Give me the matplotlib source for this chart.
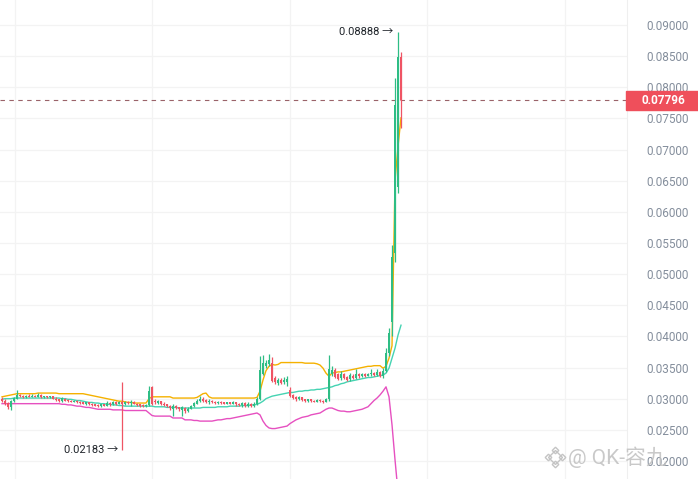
import numpy as np
import matplotlib
matplotlib.use("Agg")
import matplotlib.pyplot as plt
from matplotlib.patches import Rectangle

plt.rcParams['font.family'] = ['Roboto', 'Noto Sans CJK SC', 'DejaVu Sans']

# candle data (one candle per index)
opens = [
    .0300, .0297, .0293, .0287, .0296, .0300, .0306, .0304, .0302, .0305,
    .0303, .0305, .0303, .0306, .0302, .0304, .0302, .0304, .0300, .0299,
    .0297, .0300, .0298, .0297, .0295, .0297, .0295, .0294, .0292, .0294,
    .0292, .0291, .0290, .0289, .0291, .0289, .0293, .0291, .0294, .0292,
    .0295, .0292, .0295, .0293, .0295, .0292, .0291, .0290, .0288, .0290,
    .0318, .0297, .0293, .0296, .0292, .0291, .0289, .0284, .0288, .0286,
    .0282, .0285, .0280, .0284, .0288, .0292, .0296, .0300, .0298, .0294,
    .0297, .0295, .0293, .0295, .0294, .0292, .0294, .0292, .0294, .0292,
    .0290, .0293, .0289, .0292, .0289, .0292, .0300, .0340, .0352, .0355,
    .0357, .0333, .0325, .0330, .0326, .0327, .0314, .0306, .0302, .0299,
    .0302, .0299, .0296, .0299, .0297, .0295, .0298, .0297, .0295, .0299,
    .0340, .0346, .0340, .0333, .0340, .0335, .0331, .0337, .0333, .0339,
    .0336, .0340, .0337, .0339, .0342, .0338, .0343, .0336, .0345, .0373,
    .0423, .0534, .0640, .0849,
]
closes = [
    .0297, .0292, .0287, .0296, .0301, .0306, .0304, .0302, .0305, .0303,
    .0305, .0303, .0306, .0302, .0304, .0302, .0304, .0300, .0298, .0297,
    .0301, .0297, .0296, .0295, .0297, .0294, .0293, .0292, .0294, .0291,
    .0290, .0289, .0289, .0291, .0289, .0293, .0291, .0294, .0292, .0295,
    .0292, .0295, .0293, .0295, .0292, .0290, .0289, .0288, .0290, .0313,
    .0292, .0294, .0296, .0292, .0290, .0288, .0285, .0289, .0285, .0283,
    .0286, .0281, .0284, .0288, .0293, .0297, .0300, .0297, .0294, .0297,
    .0294, .0293, .0295, .0293, .0292, .0294, .0292, .0294, .0291, .0290,
    .0293, .0289, .0292, .0289, .0292, .0300, .0346, .0357, .0357, .0362,
    .0328, .0327, .0330, .0325, .0330, .0331, .0304, .0301, .0299, .0302,
    .0298, .0296, .0299, .0296, .0295, .0298, .0296, .0295, .0299, .0348,
    .0346, .0335, .0332, .0340, .0333, .0330, .0338, .0333, .0340, .0336,
    .0340, .0337, .0340, .0342, .0338, .0343, .0337, .0345, .0373, .0405,
    .0528, .0772, .0849, .07796,
]
highs = [
    .0302, .0299, .0295, .0298, .0303, .0314, .0307, .0306, .0306, .0307,
    .0307, .0306, .0309, .0307, .0305, .0305, .0305, .0305, .0303, .0300,
    .0303, .0301, .0299, .0298, .0298, .0298, .0296, .0295, .0295, .0295,
    .0293, .0292, .0291, .0292, .0292, .0296, .0294, .0296, .0297, .0297,
    .0327, .0297, .0296, .0298, .0296, .0293, .0292, .0291, .0292, .0321,
    .0320, .0300, .0298, .0297, .0294, .0292, .0290, .0292, .0290, .0287,
    .0288, .0286, .0286, .0290, .0295, .0299, .0304, .0303, .0300, .0299,
    .0298, .0296, .0296, .0296, .0295, .0295, .0295, .0296, .0295, .0293,
    .0295, .0294, .0294, .0293, .0294, .0302, .0369, .0370, .0362, .0371,
    .0367, .0336, .0333, .0334, .0335, .0336, .0318, .0307, .0304, .0304,
    .0303, .0300, .0300, .0300, .0298, .0299, .0299, .0298, .0301, .0370,
    .0352, .0350, .0342, .0344, .0342, .0337, .0341, .0339, .0348, .0341,
    .0342, .0342, .0342, .0347, .0343, .0348, .0344, .0350, .0381, .0413,
    .0547, .0815, .08888, .0857,
]
lows = [
    .0295, .0290, .0284, .0282, .0294, .0299, .0302, .0301, .0301, .0302,
    .0302, .0302, .0302, .0301, .0301, .0301, .0301, .0299, .0296, .0295,
    .0294, .0296, .0295, .0294, .0294, .0293, .0292, .0291, .0290, .0290,
    .0289, .0288, .0287, .0287, .0288, .0288, .0289, .0290, .0290, .0291,
    .02183, .0290, .0291, .0289, .0291, .0289, .0287, .0286, .0287, .0289,
    .0290, .0292, .0291, .0290, .0288, .0286, .0282, .0272, .0283, .0280,
    .0272, .0277, .0278, .0283, .0287, .0291, .0295, .0295, .0293, .0292,
    .0293, .0292, .0292, .0292, .0291, .0291, .0291, .0291, .0289, .0288,
    .0287, .0287, .0286, .0287, .0287, .0290, .0298, .0338, .0350, .0352,
    .0326, .0324, .0322, .0323, .0324, .0320, .0302, .0299, .0297, .0298,
    .0296, .0295, .0295, .0294, .0294, .0294, .0294, .0293, .0294, .0297,
    .0336, .0333, .0330, .0330, .0331, .0328, .0329, .0331, .0331, .0334,
    .0335, .0335, .0336, .0337, .0336, .0337, .0335, .0334, .0343, .0368,
    .0400, .0520, .0630, .0735,
]

# bollinger lines
upper = [
    .0303, .0304, .0305, .0306, .0307, .0308, .0308, .0308, .0308, .0308,
    .0308, .0308, .0309, .0309, .0309, .0309, .0309, .0309, .0309, .0308,
    .0308, .0308, .0308, .0308, .0308, .0308, .0308, .0308, .0307, .0306,
    .0305, .0304, .0303, .0302, .0301, .0300, .0299, .0298, .0297, .0296,
    .0296, .0295, .0294, .0294, .0293, .0293, .0293, .0293, .0293, .0300,
    .0303, .0303, .0303, .0303, .0303, .0303, .0303, .0301, .0301, .0301,
    .0301, .0301, .0301, .0301, .0301, .0302, .0305, .0308, .0309, .0303,
    .0301, .0301, .0301, .0301, .0301, .0301, .0301, .0301, .0301, .0301,
    .0301, .0301, .0301, .0301, .0301, .0302, .0312, .0330, .0345, .0352,
    .0355, .0354, .0355, .0358, .0358, .0358, .0358, .0358, .0358, .0358,
    .0358, .0357, .0357, .0357, .0357, .0356, .0354, .0349, .0341, .0336,
    .0341, .0342, .0343, .0343, .0344, .0345, .0346, .0347, .0348, .0349,
    .0350, .0351, .0352, .0352, .0353, .0353, .0353, .0349, .0352, .0365,
    .0385, .0650, .0705, .0751,
]
middle = [
    .0299, .0300, .0300, .0300, .0301, .0301, .0301, .0301, .0301, .0301,
    .0301, .0301, .0301, .0301, .0301, .0301, .0301, .0301, .0301, .0301,
    .0300, .0300, .0299, .0299, .0298, .0297, .0297, .0296, .0295, .0294,
    .0294, .0293, .0293, .0292, .0292, .0291, .0291, .0290, .0290, .0289,
    .0289, .0288, .0288, .0288, .0288, .0288, .0288, .0288, .0288, .0288,
    .0288, .0287, .0287, .0287, .0287, .0286, .0286, .0286, .0286, .0285,
    .0285, .0285, .0285, .0285, .0285, .0285, .0285, .0286, .0286, .0286,
    .0286, .0286, .0287, .0287, .0287, .0287, .0288, .0288, .0288, .0288,
    .0289, .0289, .0289, .0290, .0290, .0291, .0293, .0296, .0300, .0302,
    .0304, .0305, .0306, .0307, .0308, .0309, .0310, .0310, .0311, .0312,
    .0312, .0313, .0313, .0314, .0314, .0315, .0315, .0316, .0317, .0318,
    .0319, .0321, .0322, .0324, .0325, .0327, .0328, .0329, .0330, .0331,
    .0332, .0333, .0334, .0334, .0335, .0336, .0337, .0338, .0341, .0349,
    .0365, .0381, .0402, .0418,
]
lower = [
    .0292, .0292, .0292, .0292, .0292, .0292, .0292, .0292, .0292, .0292,
    .0292, .0292, .0292, .0292, .0292, .0292, .0292, .0292, .0292, .0292,
    .0291, .0291, .0290, .0290, .0289, .0288, .0288, .0287, .0286, .0286,
    .0285, .0284, .0283, .0283, .0283, .0283, .0283, .0282, .0282, .0282,
    .0282, .0281, .0281, .0281, .0281, .0281, .0281, .0281, .0281, .0277,
    .0273, .0272, .0272, .0272, .0272, .0272, .0272, .0269, .0269, .0269,
    .0269, .0266, .0266, .0266, .0265, .0265, .0264, .0264, .0264, .0264,
    .0264, .0265, .0266, .0266, .0267, .0268, .0268, .0269, .0270, .0271,
    .0272, .0273, .0274, .0275, .0276, .0277, .0274, .0264, .0257, .0253,
    .0252, .0252, .0253, .0254, .0255, .0256, .0260, .0263, .0266, .0268,
    .0270, .0271, .0272, .0274, .0275, .0276, .0277, .0280, .0283, .0285,
    .0285, .0283, .0281, .0280, .0280, .0279, .0279, .0280, .0281, .0282,
    .0283, .0285, .0287, .0292, .0297, .0301, .0306, .0312, .0319, .0303,
    .0258, .0202, .0150, .0090,
]

yticks = [0.020, 0.025, 0.030, 0.035, 0.040, 0.045, 0.050, 0.055,
          0.060, 0.065, 0.070, 0.075, 0.080, 0.085, 0.090]
last_price = 0.07796
high_mark = 0.08888
low_mark = 0.02183

GREEN = '#2ebd85'
RED = '#ef5464'

o = np.array(opens)
c = np.array(closes)
h = np.array(highs)
l = np.array(lows)
x = np.arange(len(o))
up = c >= o
cols = np.where(up, GREEN, RED)

W, H = 698, 479
fig = plt.figure(figsize=(W / 100, H / 100), dpi=100)
ax = fig.add_axes([0, 0, 627 / W, 1])

# grid
for t in yticks:
    ax.axhline(t, color='#f3f3f3', lw=0.9, zorder=0)
for gx in [4.33, 50, 96, 141.7, 187.7]:
    ax.axvline(gx, color='#f3f3f3', lw=0.9, zorder=0)

# bands
ax.plot(x, upper, color='#f5b100', lw=1.0, zorder=2)
ax.plot(x, middle, color='#45d3b2', lw=1.0, zorder=2)
ax.plot(x, lower, color='#e650c0', lw=1.0, zorder=2)

# candles
ax.vlines(x, l, h, colors=cols, lw=0.9, zorder=3)
body_lo = np.minimum(o, c)
body_h = np.maximum(np.abs(c - o), 0.00006)
ax.bar(x, body_h, bottom=body_lo, width=0.7, color=cols, lw=0, zorder=3)

# last price line
ax.axhline(last_price, color='#9a6369', lw=0.8, ls=(0, (4, 4)), zorder=1)

# hi / lo markers
ax.text(130.4, high_mark, '0.08888 →', ha='right', va='center', fontsize=8, color='#1e2329')
ax.text(38.8, low_mark, '0.02183 →', ha='right', va='center', fontsize=8, color='#1e2329')

ax.set_xlim(-0.667, 208.33)
ax.set_ylim(0.09 - 454 / 6228, 0.09 + 25 / 6228)

ax.yaxis.tick_right()
ax.set_yticks(yticks)
ax.set_yticklabels(['%.5f' % t for t in yticks])
ax.tick_params(axis='y', length=0, pad=14, labelsize=8.5, labelcolor='#848e9c')
ax.set_xticks([])
for s in ['top', 'left', 'bottom']:
    ax.spines[s].set_visible(False)
ax.spines['right'].set_color('#efefef')

# price tag
fig.patches.append(Rectangle((626 / W, 1 - 110 / H), 72 / W, 19 / H,
                             transform=fig.transFigure, color='#ef4f5b', zorder=5))
fig.text(663 / W, 1 - 100.5 / H, '0.07796', ha='center', va='center',
         color='white', fontsize=8.5, fontweight='bold', zorder=6)

# watermark
for dx, dy, s in [(0, 0, 22), (-7, 0, 10), (7, 0, 10), (0, 7, 10), (0, -7, 10)]:
    fig.lines.append(plt.Line2D([(555 + dx) / W], [1 - (457 + dy) / H], marker='D',
                                markersize=s / 3, markerfacecolor='none',
                                markeredgecolor='#c4c4c4', lw=0,
                                transform=fig.transFigure, zorder=4))
fig.text(568 / W, 1 - 457 / H, '@ QK-容九', ha='left', va='center',
         fontsize=15, color='#c0c0c0', alpha=0.85, zorder=4)

fig.savefig('out.png', dpi=100)
